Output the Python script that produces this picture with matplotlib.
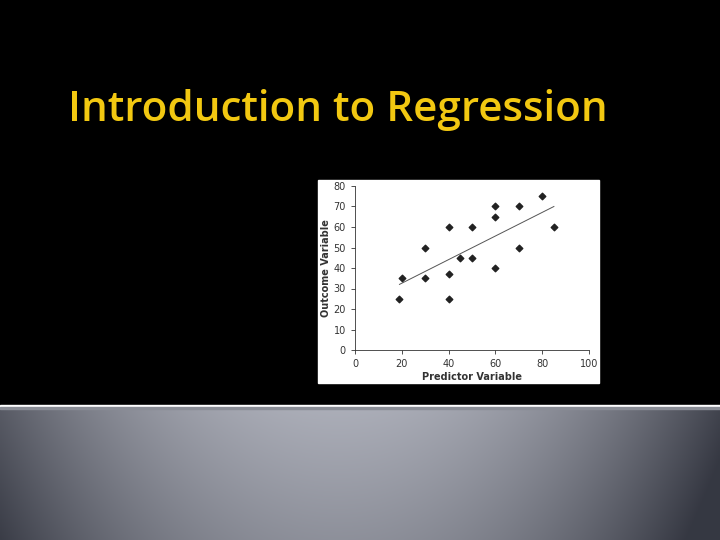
import matplotlib
matplotlib.use('Agg')
from matplotlib import pyplot as plt
import numpy as np

title = 'Introduction to Regression'
predictor = [19, 20, 30, 30, 40, 40, 40, 45, 50, 50, 60, 60, 60, 70, 70, 80, 85]
outcome = [25, 35, 50, 35, 60, 37, 25, 45, 60, 45, 70, 65, 40, 70, 50, 75, 60]
line_x = [19, 85]
line_y = [32, 70]
x_ticks = [0, 20, 40, 60, 80, 100]
y_ticks = [0, 10, 20, 30, 40, 50, 60, 70, 80]

fig = plt.figure(figsize=(7.2, 5.4), dpi=100)
fig.patch.set_facecolor('black')

# lower gradient panel
bg = fig.add_axes([0, 0, 1, 1 - 409/540])
bg.set_axis_off()
gx = np.linspace(-1, 1, 360)
gy = np.linspace(0, 1, 80)
X, Y = np.meshgrid(gx, gy)
shift = X + 0.06
v = 1 - 0.8 * shift**2 - 0.25 * (1 - Y)
v = np.clip(v, 0, 1)
dark = np.array([0.21, 0.22, 0.26])
light = np.array([0.67, 0.68, 0.72])
img = dark + (light - dark) * v[..., None]
bg.imshow(img, aspect='auto', origin='lower', extent=[0, 1, 0, 1])

# divider lines
fig.add_artist(plt.Rectangle((0, 1 - 407/540), 1, 2/540, color='white', transform=fig.transFigure))
fig.add_artist(plt.Rectangle((0, 1 - 409/540), 1, 2/540, color='#8a8d96', transform=fig.transFigure))

fig.text(68/720, 1 - 110/540, title, color='#F2C811', fontsize=30.3,
         fontfamily='Open Sans', fontweight='semibold', va='center', ha='left')

# white picture box
fig.add_artist(plt.Rectangle((318/720, 1 - 383/540), 281/720, 203/540,
                             color='white', transform=fig.transFigure, zorder=-1))

ax = fig.add_axes([355/720, 1 - 350/540, 234/720, 164/540])
ax.set_zorder(2)
ax.patch.set_alpha(0)
ax.scatter(predictor, outcome, marker='D', s=11, color='#222222', zorder=3)
ax.plot(line_x, line_y, color='#555555', lw=0.7)
ax.set_xlim(0, 100)
ax.set_ylim(0, 80)
ax.set_xticks(x_ticks)
ax.set_yticks(y_ticks)
ax.tick_params(labelsize=7, length=3, width=0.6, colors='#333333')
for s in ['top', 'right']:
    ax.spines[s].set_visible(False)
for s in ['left', 'bottom']:
    ax.spines[s].set_linewidth(0.6)
    ax.spines[s].set_color('#333333')
ax.set_xlabel('Predictor Variable', fontsize=7, fontweight='bold', color='#333333', labelpad=2)
ax.set_ylabel('Outcome Variable', fontsize=7, fontweight='bold', color='#333333', labelpad=2)

plt.savefig('out.png', dpi=100, facecolor=fig.get_facecolor())
